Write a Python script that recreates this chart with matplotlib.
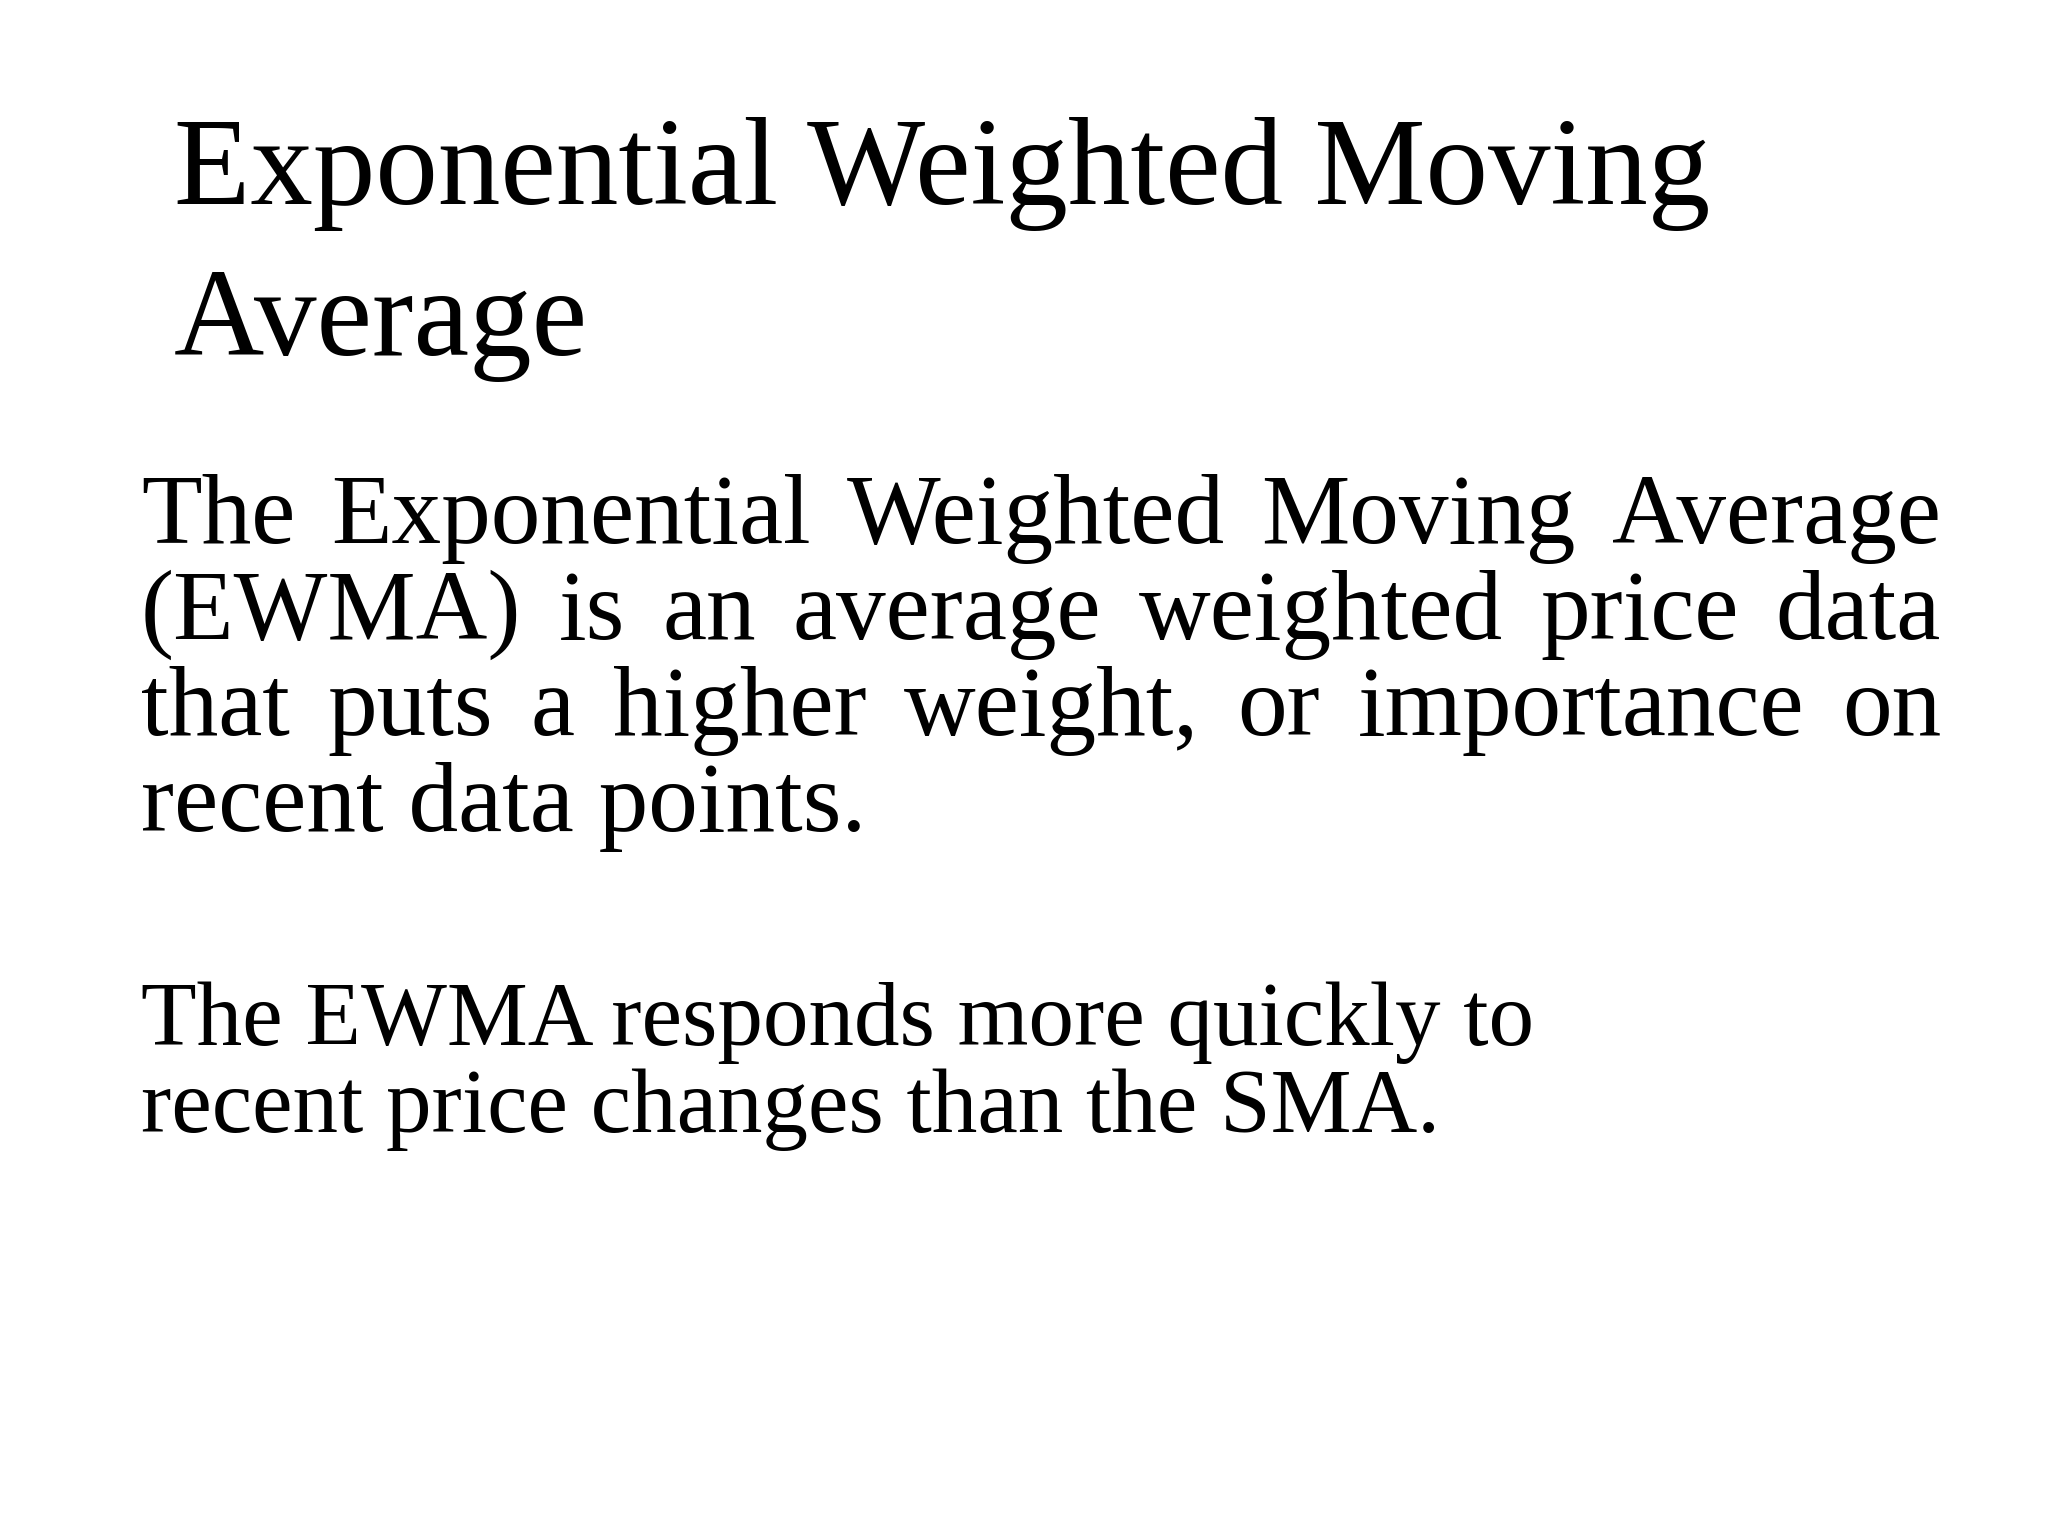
import matplotlib.pyplot as plt

W, H = 2048, 1536

title_lines = ["Exponential Weighted Moving", "Average"]
para1_lines = [
    "The Exponential Weighted Moving Average",
    "(EWMA) is an average weighted price data",
    "that puts a higher weight, or importance on",
    "recent data points.",
]
para2_lines = [
    "The EWMA responds more quickly to",
    "recent price changes than the SMA.",
]

fig = plt.figure(figsize=(W / 100, H / 100), dpi=100)
fig.patch.set_facecolor("white")
r = fig.canvas.get_renderer()


def put(x, y, s, size):
    # x, y in pixels from top-left
    return fig.text(x / W, 1 - y / H, s, fontsize=size, family="Liberation Serif",
                    ha="left", va="baseline", color="black")


def justified(lines, x0, x1, y0, dy, size):
    for i, line in enumerate(lines):
        y = y0 + i * dy
        words = line.split()
        if i == len(lines) - 1 or len(words) < 2:
            put(x0, y, line, size)
            continue
        arts = [put(0, y, w, size) for w in words]
        widths = [a.get_window_extent(r).width for a in arts]
        gap = (x1 - x0 - sum(widths)) / (len(words) - 1)
        x = x0
        for a, w in zip(arts, widths):
            a.set_x(x / W)
            x += w + gap


for i, s in enumerate(title_lines):
    put(174, 204 + i * 151, s, 90)

justified(para1_lines, 141, 1941, 543, 96, 71.5)

for i, s in enumerate(para2_lines):
    put(141, 1045 + i * 87, s, 65.5)

fig.savefig("out.png", dpi=100, facecolor="white")
